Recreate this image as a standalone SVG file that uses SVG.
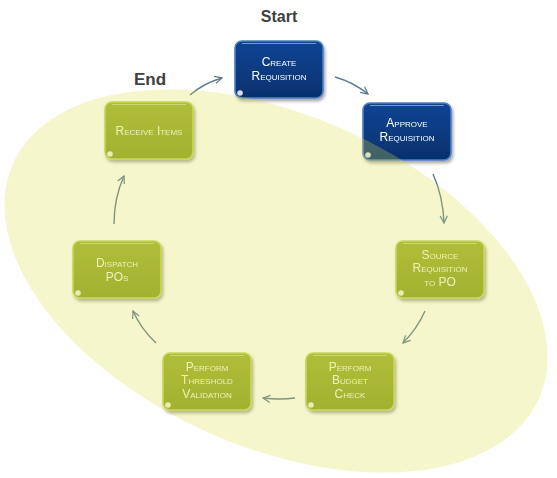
<svg xmlns="http://www.w3.org/2000/svg" width="557" height="478" viewBox="0 0 557 478">
<style>
.lbl{font-family:"Liberation Sans",Arial,sans-serif;font-size:12px;font-variant:small-caps;text-anchor:middle}
.lg{fill:#F6F8E2}
.lb{fill:#FFFFFF}
.box-g{fill:url(#gGreen);stroke:#C3D35C;stroke-width:1.6}
.box-b{fill:url(#gBlue);stroke:#4F7FC4;stroke-width:1.6}
.gloss{fill:none;stroke:#FFFFFF;stroke-opacity:0.45;stroke-width:1.2}
.dot{fill:#FFFFFF;fill-opacity:0.85}
.conn{fill:none;stroke:#5B7A92;stroke-width:1.4;marker-end:url(#ah)}
.title{font-family:"Liberation Sans",Arial,sans-serif;font-weight:bold;fill:#404040}
</style>
<defs>
<linearGradient id="gGreen" x1="0" y1="0" x2="0" y2="1">
<stop offset="0" stop-color="#9FB132"/>
<stop offset="1" stop-color="#8EA02A"/>
</linearGradient>
<linearGradient id="gBlue" x1="0" y1="0" x2="0" y2="1">
<stop offset="0" stop-color="#0C4594"/>
<stop offset="1" stop-color="#06306E"/>
</linearGradient>
<filter id="sh" x="-20%" y="-20%" width="140%" height="150%">
<feDropShadow dx="1.5" dy="2.5" stdDeviation="1.8" flood-color="#000000" flood-opacity="0.35"/>
</filter>
<marker id="ah" viewBox="0 0 10 10" refX="9" refY="5" markerWidth="9" markerHeight="9" markerUnits="userSpaceOnUse" orient="auto">
<path d="M1,1 L9,5 L1,9" fill="none" stroke="#5B7A92" stroke-width="1.4"/>
</marker>
</defs>
<rect width="557" height="478" fill="#FFFFFF"/>

<text class="title" x="279" y="22" font-size="16" text-anchor="middle">Start</text>
<text class="title" x="150" y="85" font-size="17" text-anchor="middle">End</text>

<g id="connectors">
<path class="conn" d="M190,95 Q204,83 222,78"/>
<path class="conn" d="M335,77 Q353,82 368,94"/>
<path class="conn" d="M433,174 Q443,196 444,223"/>
<path class="conn" d="M425,311 Q417,329 403,343"/>
<path class="conn" d="M295,398 Q279,400 263,398"/>
<path class="conn" d="M156,343 Q141,329 133,311"/>
<path class="conn" d="M114,224 Q114,198 124,176"/>
</g>

<g id="node-create" filter="url(#sh)">
<rect class="box-b" x="235" y="41" width="88" height="57" rx="7"/>
<path class="gloss" d="M242,43.5 H316"/>
<circle class="dot" cx="240" cy="93" r="2.8"/>
<text class="lbl lb" x="279" y="66">Create</text>
<text class="lbl lb" x="279" y="79.5">Requisition</text>
</g>

<g id="node-approve" filter="url(#sh)">
<rect class="box-b" x="363" y="103" width="88" height="57" rx="7"/>
<path class="gloss" d="M370,105.5 H444"/>
<circle class="dot" cx="368" cy="155" r="2.8"/>
<text class="lbl lb" x="407" y="127">Approve</text>
<text class="lbl lb" x="407" y="140.5">Requisition</text>
</g>

<g id="node-source" filter="url(#sh)">
<rect class="box-g" x="396" y="241" width="88" height="57" rx="7"/>
<path class="gloss" d="M403,243.5 H477"/>
<circle class="dot" cx="401" cy="293" r="2.8"/>
<text class="lbl lg" x="440" y="258.5">Source</text>
<text class="lbl lg" x="440" y="272">Requisition</text>
<text class="lbl lg" x="440" y="285.5">to PO</text>
</g>

<g id="node-budget" filter="url(#sh)">
<rect class="box-g" x="306" y="353" width="88" height="57" rx="7"/>
<path class="gloss" d="M313,355.5 H387"/>
<circle class="dot" cx="311" cy="405" r="2.8"/>
<text class="lbl lg" x="350" y="370.5">Perform</text>
<text class="lbl lg" x="350" y="384">Budget</text>
<text class="lbl lg" x="350" y="397.5">Check</text>
</g>

<g id="node-threshold" filter="url(#sh)">
<rect class="box-g" x="163" y="353" width="88" height="57" rx="7"/>
<path class="gloss" d="M170,355.5 H244"/>
<circle class="dot" cx="168" cy="405" r="2.8"/>
<text class="lbl lg" x="207" y="370.5">Perform</text>
<text class="lbl lg" x="207" y="384">Threshold</text>
<text class="lbl lg" x="207" y="397.5">Validation</text>
</g>

<g id="node-dispatch" filter="url(#sh)">
<rect class="box-g" x="73" y="241" width="88" height="57" rx="7"/>
<path class="gloss" d="M80,243.5 H154"/>
<circle class="dot" cx="78" cy="293" r="2.8"/>
<text class="lbl lg" x="117" y="267">Dispatch</text>
<text class="lbl lg" x="117" y="280.5">POs</text>
</g>

<g id="node-receive" filter="url(#sh)">
<rect class="box-g" x="105" y="102" width="88" height="57" rx="7"/>
<path class="gloss" d="M112,104.5 H186"/>
<circle class="dot" cx="110" cy="154" r="2.8"/>
<text class="lbl lg" x="149" y="135">Receive Items</text>
</g>

<ellipse cx="276" cy="281" rx="288" ry="166" transform="rotate(24 276 281)" fill="#DCE048" fill-opacity="0.28"/>
</svg>
